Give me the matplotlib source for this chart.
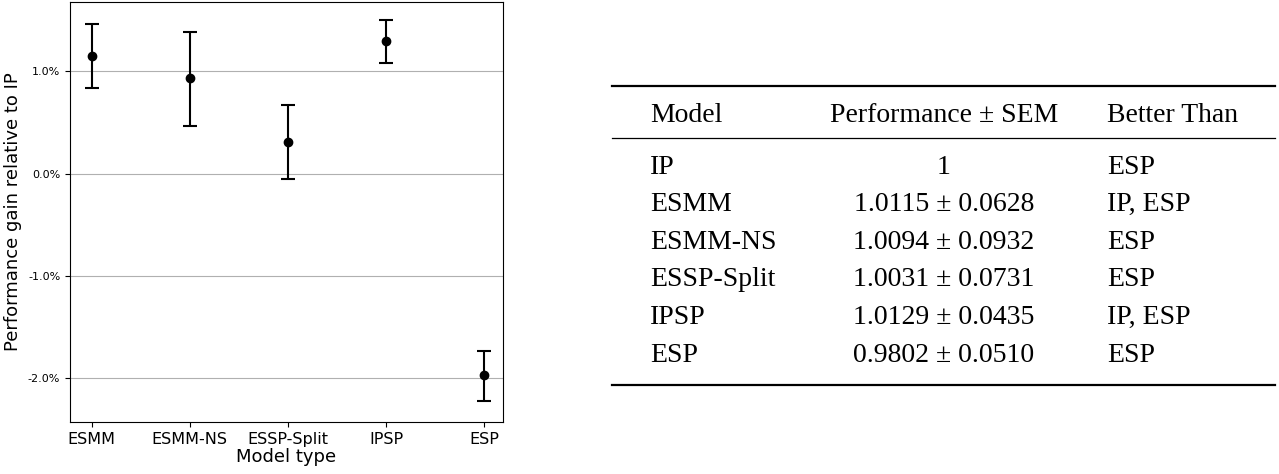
import matplotlib.pyplot as plt
from matplotlib.ticker import FuncFormatter

models = ["ESMM", "ESMM-NS", "ESSP-Split", "IPSP", "ESP"]
gain = [1.15, 0.94, 0.31, 1.30, -1.97]
err_lo = [0.31, 0.47, 0.36, 0.22, 0.25]
err_hi = [0.31, 0.45, 0.36, 0.20, 0.23]

tab_model = ["IP", "ESMM", "ESMM-NS", "ESSP-Split", "IPSP", "ESP"]
tab_perf = ["1", "1.0115 ± 0.0628", "1.0094 ± 0.0932", "1.0031 ± 0.0731",
            "1.0129 ± 0.0435", "0.9802 ± 0.0510"]
tab_better = ["ESP", "IP, ESP", "ESP", "ESP", "IP, ESP", "ESP"]

W, H = 1279, 474
fig = plt.figure(figsize=(W / 100, H / 100), dpi=100)
ax = fig.add_axes([70 / W, 52 / H, 433 / W, 420 / H])
x = list(range(len(models)))
ax.errorbar(x, gain, yerr=[err_lo, err_hi], fmt="o", color="black",
            ms=6, capsize=5, elinewidth=1.5, capthick=1.5)
ax.set_xticks(x)
ax.set_xticklabels(models, fontsize=11.5)
ax.set_xlim(-0.22, 4.19)
ax.set_ylim(-2.43, 1.68)
ax.set_yticks([-2, -1, 0, 1])
ax.yaxis.set_major_formatter(FuncFormatter(lambda v, _: f"{v:.1f}%"))
ax.tick_params(axis="y", labelsize=8)
ax.grid(axis="y", color="#b0b0b0", lw=0.8)
ax.set_axisbelow(True)
ax.set_xlabel("Model type", fontsize=13, labelpad=1)
ax.set_ylabel("Performance gain relative to IP", fontsize=13)

# table
serif = ["Liberation Serif", "DejaVu Serif"]
fs = 20
def fy(py):
    return 1 - py / H
x0, x1 = 612 / W, 1275 / W
fig.add_artist(plt.Line2D([x0, x1], [fy(86)] * 2, color="black", lw=1.6))
fig.add_artist(plt.Line2D([x0, x1], [fy(138)] * 2, color="black", lw=0.9))
fig.add_artist(plt.Line2D([x0, x1], [fy(385)] * 2, color="black", lw=1.6))
cm, cp, cb = 650 / W, 944 / W, 1107 / W
fig.text(cm, fy(116), "Model", family=serif, fontsize=fs, va="center")
fig.text(cp, fy(116), "Performance ± SEM", family=serif, fontsize=fs, va="center", ha="center")
fig.text(cb, fy(116), "Better Than", family=serif, fontsize=fs, va="center")
for i, (m, p, b) in enumerate(zip(tab_model, tab_perf, tab_better)):
    yy = fy(167 + i * 37.6)
    fig.text(cm, yy, m, family=serif, fontsize=fs, va="center")
    fig.text(cp, yy, p, family=serif, fontsize=fs, va="center", ha="center")
    fig.text(cb, yy, b, family=serif, fontsize=fs, va="center")

fig.savefig("out.png", dpi=100)
